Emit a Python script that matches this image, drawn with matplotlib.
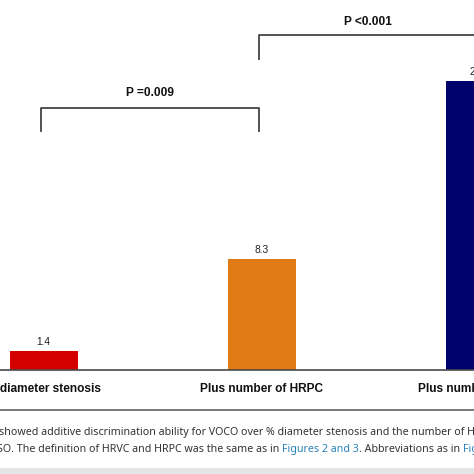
import matplotlib
matplotlib.use("Agg")
import matplotlib.pyplot as plt
from matplotlib.lines import Line2D
from matplotlib.patches import Rectangle

# ---- data ----
categories = ['% diameter stenosis', 'Plus number of HRPC', 'Plus number of HRVC']
values = [1.4, 8.3, 21.6]
value_labels = ['1.4', '8.3', '21.6']
bar_colors = ['#d40000', '#e07a14', '#00006a']
p_labels = ['P =0.009', 'P <0.001']
caption_line1 = [("showed additive discrimination ability for VOCO over % diameter stenosis and the number of HRPC", '#333333')]
caption_line2 = [("SO. The definition of HRVC and HRPC was the same as in ", '#333333'),
                 ("Figures 2 and 3", '#2a83b8'),
                 (". Abbreviations as in ", '#333333'),
                 ("Figures 2 and 3", '#2a83b8')]

W = H = 474
DPI = 100
fig = plt.figure(figsize=(W / DPI, H / DPI), dpi=DPI)
fig.patch.set_facecolor('white')

base_px = 370  # baseline from top
ax = fig.add_axes([0, (H - base_px) / H, 1, base_px / H])
ax.set_facecolor('none')
px_per_unit_x = 218.0
x0_px = 43.5
px_per_unit_y = 13.37
for s in ax.spines.values():
    s.set_visible(False)
ax.set_yticks([])
ax.set_xticks([])

pos = list(range(len(categories)))
bars = ax.bar(pos, values, width=68 / px_per_unit_x, color=bar_colors)
ax.axhline(0, color='#4a4a4a', lw=1.2, clip_on=False)

for p, v, lbl in zip(pos, values, value_labels):
    ax.annotate(lbl, xy=(p, v), xytext=(0, 3), textcoords='offset points',
                ha='center', va='bottom', fontsize=7.4, color='#222222',
                family='Liberation Sans', annotation_clip=False)

for p, cat in zip(pos, categories):
    ax.annotate(cat, xy=(p, 0), xytext=(0, -9), textcoords='offset points',
                ha='center', va='top', fontsize=8.6, fontweight='bold',
                family='Liberation Sans', color='#111111', annotation_clip=False)

def ypx(p):
    return (base_px - p) / px_per_unit_y

# brackets
lc = '#444444'
off = -0.012
b1_top, b1_bot = ypx(108), ypx(131)
ax.plot([pos[0] + off, pos[0] + off, pos[1] + off, pos[1] + off],
        [b1_bot, b1_top, b1_top, b1_bot], color=lc, lw=1.3, clip_on=False)
ax.text((pos[0] + pos[1]) / 2 + off, ypx(93), p_labels[0], ha='center', va='center',
        fontsize=8.6, fontweight='bold', family='Liberation Sans', color='#111111')
b2_top, b2_bot = ypx(35), ypx(59)
ax.plot([pos[1] + off, pos[1] + off, pos[2] + off, pos[2] + off],
        [b2_bot, b2_top, b2_top, b2_bot], color=lc, lw=1.3, clip_on=False)
ax.text((pos[1] + pos[2]) / 2 + off, ypx(22), p_labels[1], ha='center', va='center',
        fontsize=8.6, fontweight='bold', family='Liberation Sans', color='#111111')

ax.set_xlim(-x0_px / px_per_unit_x, (W - x0_px) / px_per_unit_x)
ax.set_ylim(0, base_px / px_per_unit_y)

# separator line
fig.add_artist(Line2D([0, 1], [(H - 410) / H] * 2, color='#555555', lw=1.1,
                      transform=fig.transFigure))
fig.add_artist(Rectangle((0, 0), 1, (H - 468) / H, transform=fig.transFigure,
                         facecolor='#e4e4e4', edgecolor='none'))

cap_font = dict(fontsize=7.7, family='Noto Sans')
fig.canvas.draw()
renderer = fig.canvas.get_renderer()

def draw_line(segments, x_px, y_px):
    x = x_px
    for txt, col in segments:
        t = fig.text(x / W, (H - y_px) / H, txt, color=col, ha='left',
                     va='baseline', **cap_font)
        x += t.get_window_extent(renderer).width

draw_line(caption_line1, -1, 435)
draw_line(caption_line2, -3, 452)

fig.savefig('out.png', dpi=DPI, facecolor='white')
